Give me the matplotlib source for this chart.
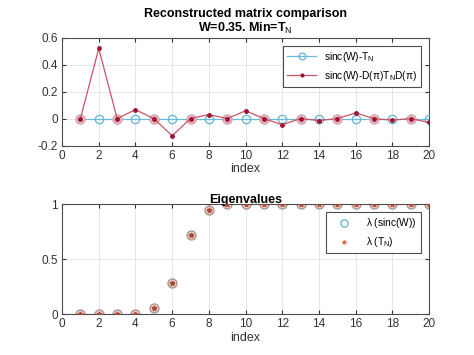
import numpy as np
import matplotlib
matplotlib.use('Agg')
import matplotlib.pyplot as plt

plt.rcParams['font.family'] = ['Liberation Sans', 'DejaVu Sans']
plt.rcParams['mathtext.fontset'] = 'custom'
plt.rcParams['mathtext.rm'] = 'Liberation Sans'
plt.rcParams['mathtext.it'] = 'Liberation Sans'

index = np.arange(1, 21)
sinc_minus_tn = np.zeros(20)
sinc_minus_dtd = np.array([0, 0.52, 0, 0.066, 0, -0.127, 0, 0.03, 0, 0.058,
                           0, -0.046, 0, -0.015, 0, 0.042, 0, -0.012, 0, -0.029])
eig_sinc = np.array([0, 0, 0, 0.005, 0.054, 0.287, 0.715, 0.948, 1, 1,
                     1, 1, 1, 1, 1, 1, 1, 1, 1, 1])
eig_tn = eig_sinc.copy()

blue = '#4DBEEE'
red = '#A2142F'
orange = '#D95319'
axc = '#4d4d4d'

fig = plt.figure(figsize=(4.74, 3.55), dpi=100)
ax1 = fig.add_axes([0.131, 0.590, 0.774, 0.304])
ax2 = fig.add_axes([0.131, 0.115, 0.774, 0.310])

def style(ax):
    ax.grid(True, color='#e3e3e3', linewidth=0.6)
    ax.set_axisbelow(True)
    for s in ax.spines.values():
        s.set_color(axc)
        s.set_linewidth(0.8)
    ax.tick_params(direction='in', colors='#333333', labelsize=8.5, length=3,
                   top=True, right=True, pad=3)
    ax.set_xlim(0, 20)
    ax.set_xticks(np.arange(0, 21, 2))
    ax.set_xlabel('index', fontsize=9, color='#333333', labelpad=1)

# top panel
zero_mask = sinc_minus_dtd == 0
ax1.plot(index, sinc_minus_tn, '-o', color='#6cb8d8', mfc='none', ms=6, lw=0.9,
         label='sinc(W)-T$_N$', zorder=3)
ax1.plot(index[zero_mask], sinc_minus_dtd[zero_mask], 'o', ms=6.5,
         mfc='#e6bcc4', mec='#d8a8b2', zorder=3.5)
ax1.plot(index, sinc_minus_dtd, '-', color='#c4566a', lw=0.9, zorder=4,
         marker='.', ms=5, mfc=red, mec=red,
         label='sinc(W)-D($\\pi$)T$_N$D($\\pi$)')
ax1.set_ylim(-0.2, 0.6)
ax1.set_yticks([-0.2, 0, 0.2, 0.4, 0.6])
ax1.set_yticklabels(['-0.2', '0', '0.2', '0.4', '0.6'])
style(ax1)
ax1.set_title('Reconstructed matrix comparison\nW=0.35. Min=T$_N$',
              fontsize=9, fontweight='bold', pad=4, linespacing=1.1)
leg1 = ax1.legend(loc='upper right', fontsize=7.3, handlelength=2.8,
                  fancybox=False, edgecolor=axc, framealpha=1,
                  borderaxespad=0.8, labelspacing=0.5, markerscale=0.8)
leg1.get_frame().set_linewidth(0.8)

# bottom panel
ax2.plot(index, eig_sinc, 'o', ms=6.5, mfc='#e8cac2', mec='#b09890', zorder=2)
ax2.plot(index, eig_sinc, 'o', ms=6.5, mfc='none', mec=blue, alpha=0.0,
         label='$\\lambda$ (sinc(W))')
ax2.plot(index, eig_tn, '*', ms=3.5, color='#a84838', zorder=4,
         label='$\\lambda$ (T$_N$)')
ax2.set_ylim(0, 1)
ax2.set_yticks([0, 0.5, 1])
ax2.set_yticklabels(['0', '0.5', '1'])
style(ax2)
ax2.set_title('Eigenvalues', fontsize=9, fontweight='bold', pad=1)
leg2 = ax2.legend(loc='upper right', fontsize=7.3, handlelength=2.8,
                  fancybox=False, edgecolor=axc, framealpha=1,
                  borderaxespad=0.8, labelspacing=0.5, markerscale=0.8)
leg2.get_frame().set_linewidth(0.8)
h = leg2.legend_handles
h[0].set_alpha(1)
h[0].set_markeredgecolor('#6cb8c8')
h[1].set_color('#e07050')

fig.savefig('out.png', dpi=100)
